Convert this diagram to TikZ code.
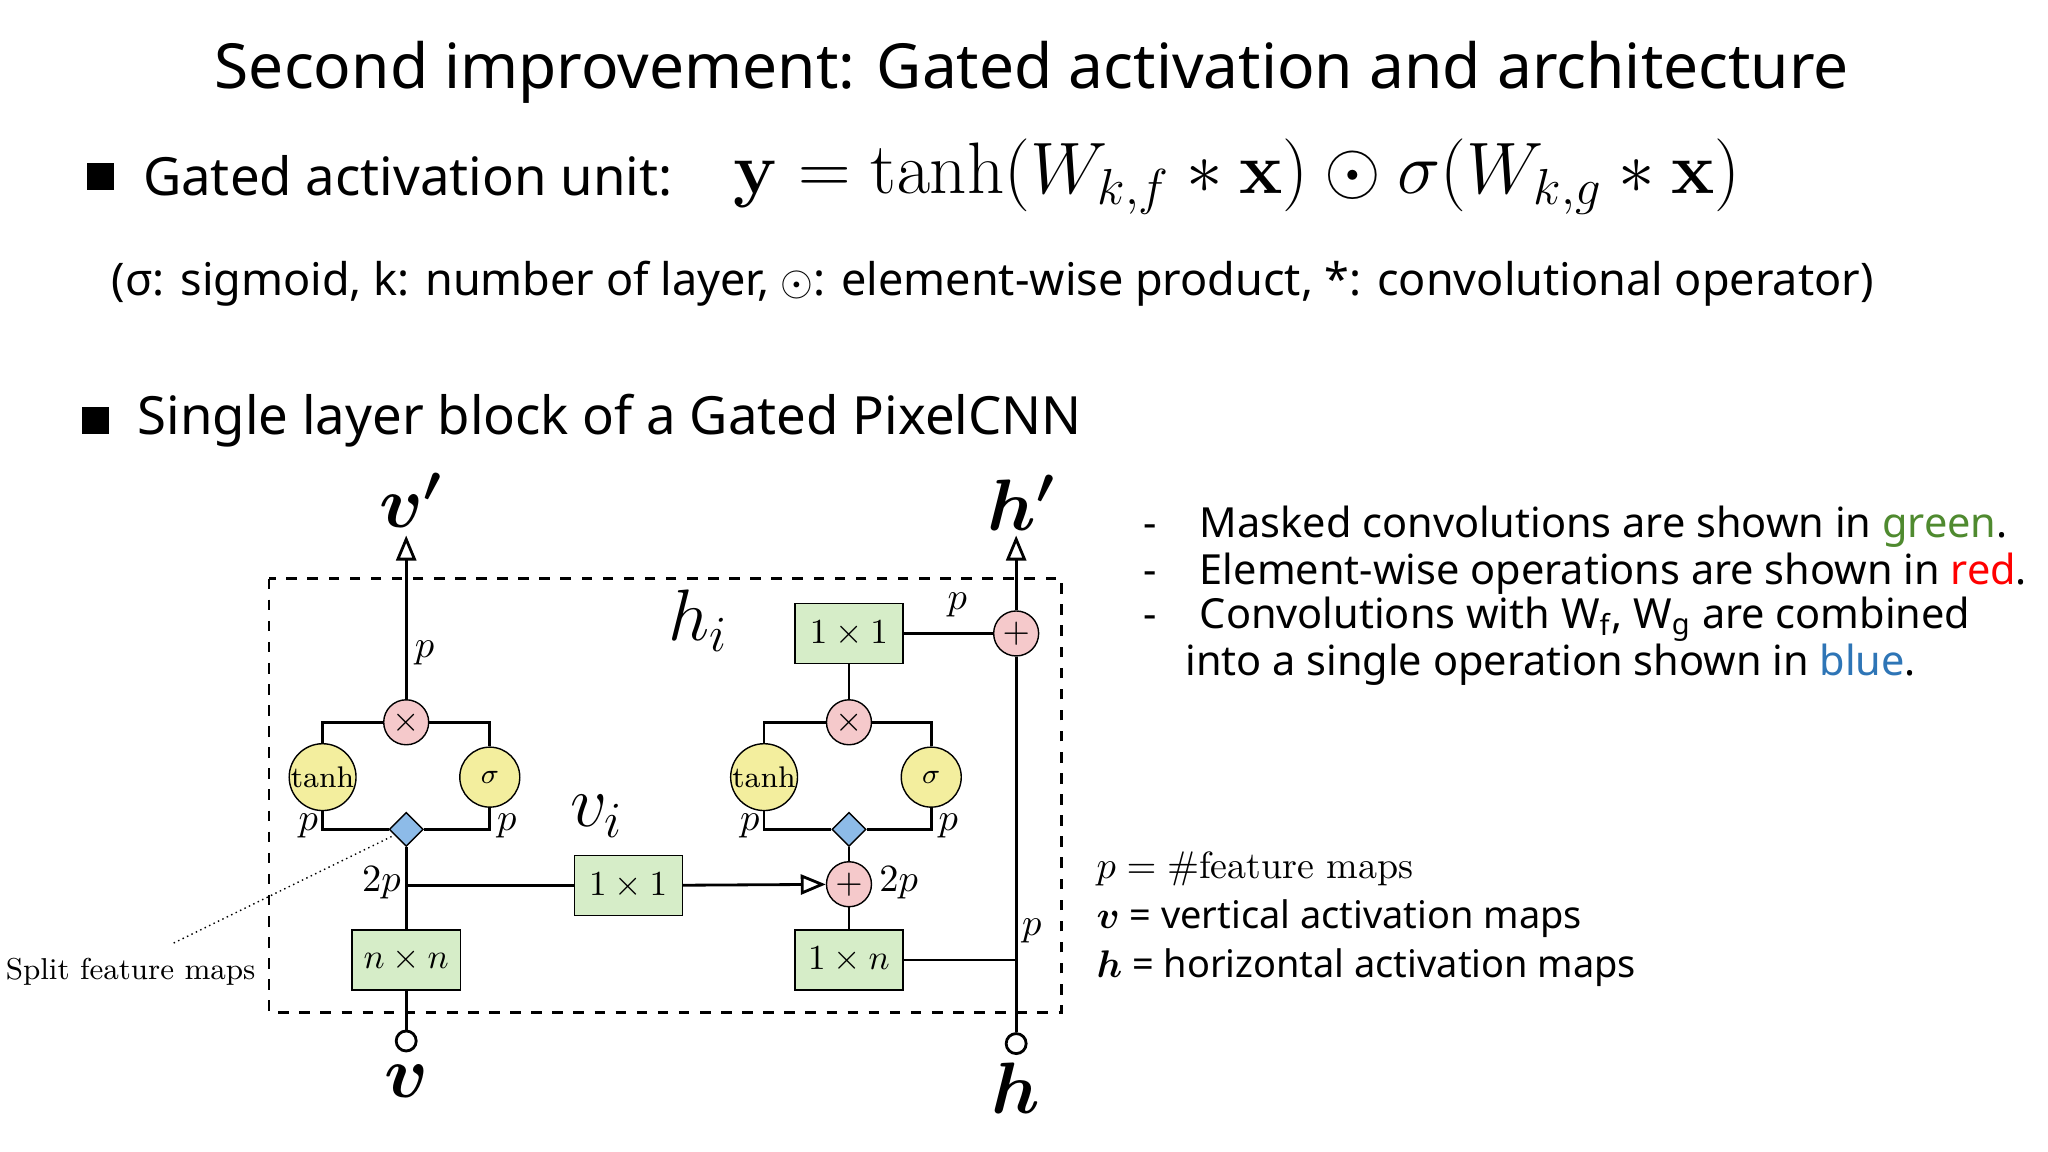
\documentclass[tikz,border=0pt]{standalone}
\usepackage{amsmath}
\usepackage{amssymb}
\usepackage{bm}
\usepackage[no-math]{fontspec}
\setmainfont{Noto Sans}
\newfontfamily\lmserif{Latin Modern Roman}
\usetikzlibrary{positioning,arrows.meta,shapes.geometric}
\definecolor{boxgreen}{HTML}{D6EDC8}
\definecolor{opred}{HTML}{F5C9CB}
\definecolor{actyellow}{HTML}{F3EE9E}
\definecolor{splitblue}{HTML}{8DBBE8}
\definecolor{txtgreen}{HTML}{4F8A2F}
\definecolor{txtblue}{HTML}{2E75B6}
\tikzset{
  conv/.style={draw, fill=boxgreen, minimum width=1.08cm, minimum height=0.6cm, font=\lmserif\fontsize{10}{11}\selectfont},
  elem/.style={circle, draw, fill=opred, minimum size=0.45cm, inner sep=0pt},
  act/.style={circle, draw, fill=actyellow, minimum size=0.6cm, inner sep=0pt, font=\lmserif\fontsize{8.5}{10}\selectfont},
  split/.style={diamond, draw, fill=splitblue, minimum size=0.34cm, inner sep=0pt},
  port/.style={circle, draw, thick, fill=white, minimum size=0.2cm, inner sep=0pt},
  lbl/.style={font=\lmserif\fontsize{11}{12}\selectfont},
  big/.style={font=\fontsize{20}{22}\selectfont},
  wire/.style={thick},
}
\begin{document}
\begin{tikzpicture}[x=0.013061cm, y=-0.013061cm]
\useasboundingbox (0,0) rectangle (1568,882);
% headings
\node (title) at (790,55) {\fontsize{17.7}{20}\selectfont Second improvement: Gated activation and architecture};
\node[fill=black, minimum size=0.27cm, inner sep=0pt] (b1) at (77,135) {};
\node[anchor=west] (gau) at (100,135) {\fontsize{15}{18}\selectfont Gated activation unit:};
\node (eq) at (947,135) {\fontsize{19.5}{24}\selectfont $\mathbf{y}=\tanh(W_{k,f}\ast\mathbf{x})\odot\sigma(W_{k,g}\ast\mathbf{x})$};
\node (note) at (760,217) {\fontsize{12.8}{16}\selectfont (σ: sigmoid, k: number of layer, $\odot$: element-wise product, *: convolutional operator)};
\node[fill=black, minimum size=0.27cm, inner sep=0pt] (b2) at (73,322) {};
\node[anchor=west] (slb) at (96,322) {\fontsize{15}{18}\selectfont Single layer block of a Gated PixelCNN};

% block
\draw[thick, dashed] (206,443) rectangle (813,775);
\node[port] (vin) at (311,797) {};
\node[big] (vlab) at (311,828) {$\bm{v}$};
\node[conv] (nxn) at (311,735) {$n\times n$};
\node[split] (sl) at (311,635) {};
\node[act] (tl) at (247,595) {tanh};
\node[act] (sgl) at (375,595) {$\sigma$};
\node[elem] (ml) at (311,553) {$\times$};
\coordinate (vout) at (311,410);
\node[big] (vplab) at (315,383) {$\bm{v'}$};

\node[conv] (c11) at (481,678) {$1\times 1$};
\node[elem] (ar) at (650,677) {$+$};
\node[conv] (c1n) at (650,735) {$1\times n$};
\node[split] (sr) at (650,635) {};
\node[act] (tr) at (585,595) {tanh};
\node[act] (sgr) at (713,595) {$\sigma$};
\node[elem] (mr) at (650,553) {$\times$};
\node[conv] (c11b) at (650,485) {$1\times 1$};
\node[elem] (ah) at (778,485) {$+$};
\node[port] (hin) at (778,799) {};
\node[big] (hlab) at (778,833) {$\bm{h}$};
\coordinate (hout) at (778,410);
\node[big] (hplab) at (782,385) {$\bm{h'}$};

\draw[wire] (vin) -- (nxn) -- (sl);
\draw[wire] (sl) -| (tl);
\draw[wire] (sl) -| (sgl);
\draw[wire] (tl) |- (ml);
\draw[wire] (sgl) |- (ml);
\draw[wire, -{Triangle[open, length=0.25cm, width=0.2cm]}] (ml) -- (vout);
\draw[wire] (311,678) -- (c11);
\draw[wire, -{Triangle[open, length=0.25cm, width=0.2cm]}] (c11) -- (ar);
\draw[wire] (c1n) -- (ar) -- (sr);
\draw[wire] (sr) -| (tr);
\draw[wire] (sr) -| (sgr);
\draw[wire] (tr) |- (mr);
\draw[wire] (sgr) |- (mr);
\draw[wire] (mr) -- (c11b);
\draw[wire] (c11b) -- (ah);
\draw[wire] (hin) -- (ah);
\draw[wire, -{Triangle[open, length=0.25cm, width=0.2cm]}] (ah) -- (hout);
\draw[wire] (c1n.east) -- (778,735);

% labels in block
\node[lbl] (p1) at (325,500) {$p$};
\node[lbl] (p2) at (236,632) {$p$};
\node[lbl] (p3) at (388,632) {$p$};
\node[lbl] (p4) at (292,676) {$2p$};
\node[lbl] (p5) at (688,676) {$2p$};
\node[lbl] (p6) at (574,632) {$p$};
\node[lbl] (p7) at (726,632) {$p$};
\node[lbl] (p8) at (733,463) {$p$};
\node[lbl] (p9) at (790,713) {$p$};
\node[big] (hi) at (535,475) {$h_i$};
\node[big] (vi) at (457,625) {$v_i$};
\node[font=\lmserif\fontsize{8.6}{12}\selectfont] (sfm) at (100,744) {Split feature maps};
\draw[densely dotted] (133,722) -- (sl);

% legend
\node[anchor=west, font=\fontsize{10.8}{14}\selectfont] (k1) at (830,665) {\lmserif $p=\#$feature maps};
\node[anchor=west, font=\fontsize{10.8}{14}\selectfont] (k2) at (830,703) {$\bm{v}$ = vertical activation maps};
\node[anchor=west, font=\fontsize{10.8}{14}\selectfont] (k3) at (830,741) {$\bm{h}$ = horizontal activation maps};

\node[anchor=west, font=\fontsize{11.8}{16}\selectfont] (d1) at (866,403) {-\enspace\; Masked convolutions are shown in \textcolor{txtgreen}{green}.};
\node[anchor=west, font=\fontsize{11.8}{16}\selectfont] (d2) at (866,439) {-\enspace\; Element-wise operations are shown in \textcolor{red}{red}.};
\node[anchor=west, font=\fontsize{11.8}{16}\selectfont] (d3) at (866,474) {-\enspace\; Convolutions with W\textsubscript{f}, W\textsubscript{g} are combined};
\node[anchor=west, font=\fontsize{11.8}{16}\selectfont] (d4) at (898,509) {into a single operation shown in \textcolor{txtblue}{blue}.};
\end{tikzpicture}
\end{document}
